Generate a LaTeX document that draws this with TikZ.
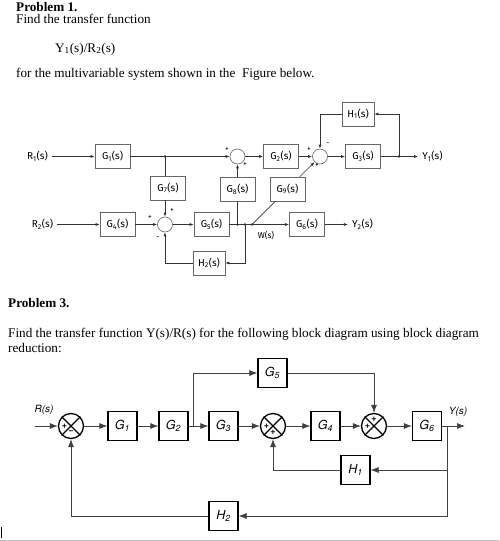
\documentclass[tikz,border=0pt]{standalone}
\usepackage{fontspec}
\setmainfont{Liberation Serif}
\setsansfont{Fira Sans}
\newfontfamily\helv{TeX Gyre Heros}
\usetikzlibrary{arrows.meta,positioning,calc}

\begin{document}
\begin{tikzpicture}[x=1pt,y=-1pt,
    txt/.style={anchor=base west,inner sep=0pt,font=\fontsize{13.2}{15}\selectfont},
    blk/.style={draw=black!60,line width=0.6pt,fill=white,minimum width=35pt,
      minimum height=24pt,inner sep=0pt,font=\sffamily\fontsize{10}{12}\selectfont},
    sig/.style={inner sep=4pt,font=\sffamily\fontsize{10}{12}\selectfont},
    sm/.style={circle,draw=black!60,line width=0.6pt,minimum size=15pt,inner sep=0pt},
    pm/.style={inner sep=0pt,font=\sffamily\fontsize{7.5}{8}\selectfont},
    dot/.style={circle,fill=black!80,inner sep=0pt,minimum size=2.6pt},
    ln/.style={draw=black!80,line width=0.7pt},
    ar/.style={ln,-{Latex[length=4pt,width=3pt]}},
    blkb/.style={draw,line width=1.3pt,minimum size=29pt,inner sep=0pt,
      font=\helv\itshape\fontsize{12.5}{14}\selectfont},
    smb/.style={circle,draw,line width=1.3pt,minimum size=25pt,inner sep=0pt},
    pmb/.style={inner sep=0pt,font=\helv\bfseries\fontsize{9}{10}\selectfont},
    lnb/.style={draw=black!75,line width=0.7pt},
    arb/.style={lnb,-{Latex[length=8pt,width=6pt]}}]
    \useasboundingbox (0,0) rectangle (499,541);
    % problem 1
    \node[txt] (p1) at (16,11) {\bfseries Problem 1.};
    \node[txt] (t1) at (16,23) {Find the transfer function};
    \node[txt] (t2) at (55,52) {Y\textsubscript{1}(s)/R\textsubscript{2}(s)};
    \node[txt] (t3) at (16,77) {for the multivariable system shown in the\ \ Figure below.};
    \node[sig] (r1) at (37.5,156.5) {R\textsubscript{1}(s)};
    \node[blk] (g1) at (112.5,156.5) {G\textsubscript{1}(s)};
    \coordinate (j1) at (165,156.5);
    \node[sm] (s1) at (237.5,156.5) {};
    \node[blk] (g2) at (281,156.5) {G\textsubscript{2}(s)};
    \node[sm] (s3) at (320,156.5) {};
    \node[blk] (g3) at (363,156.5) {G\textsubscript{3}(s)};
    \coordinate (j2) at (399,156.5);
    \node[sig] (y1) at (432.5,156.5) {Y\textsubscript{1}(s)};
    \node[blk,minimum width=32pt] (h1) at (358,114) {H\textsubscript{1}(s)};
    \node[blk] (g7) at (168,188) {G\textsubscript{7}(s)};
    \node[blk] (g8) at (237.5,189.5) {G\textsubscript{8}(s)};
    \node[blk] (g9) at (287.5,189) {G\textsubscript{9}(s)};
    \node[sig] (r2) at (42.5,224.5) {R\textsubscript{2}(s)};
    \node[blk] (g4) at (117.5,224.5) {G\textsubscript{4}(s)};
    \node[sm] (s2) at (165,224.5) {};
    \node[blk] (g5) at (211.5,224.5) {G\textsubscript{5}(s)};
    \coordinate (j3) at (237.5,224.5);
    \coordinate (j4) at (245,224.5);
    \coordinate (j5) at (252,224.5);
    \node[blk] (g6) at (307,224.5) {G\textsubscript{6}(s)};
    \node[sig] (y2) at (362.5,224.5) {Y\textsubscript{2}(s)};
    \node[sig,inner sep=0pt,font=\sffamily\fontsize{8.5}{10}\selectfont] (w) at (266,236) {W(s)};
    \node[blk,minimum width=32pt] (h2) at (209,263) {H\textsubscript{2}(s)};
    \draw[ar] (r1) -- (g1);
    \draw[ar] (g1) -- (s1);
    \draw[ar] (s1) -- (g2);
    \draw[ar] (g2) -- (s3);
    \draw[ar] (s3) -- (g3);
    \draw[ar] (g3) -- (y1);
    \draw[ar] (j2) |- (h1);
    \draw[ar] (h1) -| (s3);
    \draw[ln] (j1) -- (j1 |- g7.north);
    \draw[ar] (j1 |- g7.south) -- (s2);
    \draw[ar] (r2) -- (g4);
    \draw[ar] (g4) -- (s2);
    \draw[ar] (s2) -- (g5);
    \draw[ln] (g5) -- (j5);
    \draw[ar] (j5) -- (g6);
    \draw[ar] (g6) -- (y2);
    \draw[ln] (j3) -- (g8);
    \draw[ar] (g8) -- (s1);
    \draw[ln] (j5) -- (g9);
    \draw[ar] (g9) -- (s3);
    \draw[ar] (j4) |- (h2);
    \draw[ar] (h2) -| (s2);
    \foreach \j in {j1,j2,j3,j4,j5}
        \node[dot] at (\j) {};
    \node[pm] at (227,150) {+};
    \node[pm] at (245,165) {+};
    \node[pm] at (150,218) {+};
    \node[pm] at (172,211) {+};
    \node[pm] at (158,238) {-};
    \node[pm] at (309,150) {+};
    \node[pm] at (328,144) {-};
    \node[pm] at (317,166) {+};
    % problem 3
    \node[txt] (p3) at (8,307) {\bfseries Problem 3.};
    \node[txt] (t4) at (8,337) {Find the transfer function Y(s)/R(s) for the following block diagram using block diagram};
    \node[txt] (t5) at (8,352) {reduction:};
    \coordinate (rin) at (35,426);
    \node[inner sep=0pt,font=\helv\itshape\fontsize{10}{12}\selectfont] (rs) at (44,410) {R(s)};
    \node[smb] (sa) at (71,426) {};
    \node[blkb] (b1) at (122.5,426) {G\textsubscript{1}};
    \node[blkb] (b2) at (173.5,426) {G\textsubscript{2}};
    \coordinate (k1) at (193,426);
    \node[blkb] (b3) at (223.5,426) {G\textsubscript{3}};
    \node[smb] (sb) at (273,426) {};
    \node[blkb] (b4) at (325.5,426) {G\textsubscript{4}};
    \node[smb] (sc) at (374,426) {};
    \node[blkb] (b6) at (427,426) {G\textsubscript{6}};
    \coordinate (k2) at (447,426);
    \coordinate (yout) at (465,426);
    \node[inner sep=0pt,font=\helv\itshape\fontsize{10}{12}\selectfont] (ys) at (458,412) {Y(s)};
    \node[blkb] (b5) at (272.5,373) {G\textsubscript{5}};
    \node[blkb] (bh1) at (355.5,470) {H\textsubscript{1}};
    \node[blkb] (bh2) at (223.5,516) {H\textsubscript{2}};
    \foreach \s in {sa,sb,sc}
        \draw[line width=1.2pt] (\s.north west) -- (\s.south east)
            (\s.north east) -- (\s.south west);
    \draw[arb] (rin) -- (sa);
    \draw[arb] (sa) -- (b1);
    \draw[arb] (b1) -- (b2);
    \draw[lnb] (b2) -- (k1);
    \draw[arb] (k1) -- (b3);
    \draw[arb] (b3) -- (sb);
    \draw[arb] (sb) -- (b4);
    \draw[arb] (b4) -- (sc);
    \draw[arb] (sc) -- (b6);
    \draw[arb] (b6) -- (yout);
    \draw[arb] (k1) |- (b5);
    \draw[arb] (b5) -| (sc);
    \draw[arb] (k2) |- (bh1);
    \draw[arb] (bh1) -| (sb);
    \draw[arb] (k2) |- (bh2);
    \draw[arb] (bh2) -| (sa);
    \node[pmb] at ($(sa)+(-6.5,0)$) {+};
    \node[pmb] at ($(sa)+(0,6.5)$) {\textminus};
    \node[pmb] at ($(sb)+(-6.5,0)$) {+};
    \node[pmb] at ($(sb)+(0,6.5)$) {+};
    \node[pmb] at ($(sc)+(0,-6.5)$) {+};
    \node[pmb] at ($(sc)+(-6.5,0)$) {+};
    \draw[black!25,line width=1pt] (0,540) -- (499,540);
    \draw[line width=1.5pt] (1.5,527) -- (1.5,538);
\end{tikzpicture}
\end{document}
